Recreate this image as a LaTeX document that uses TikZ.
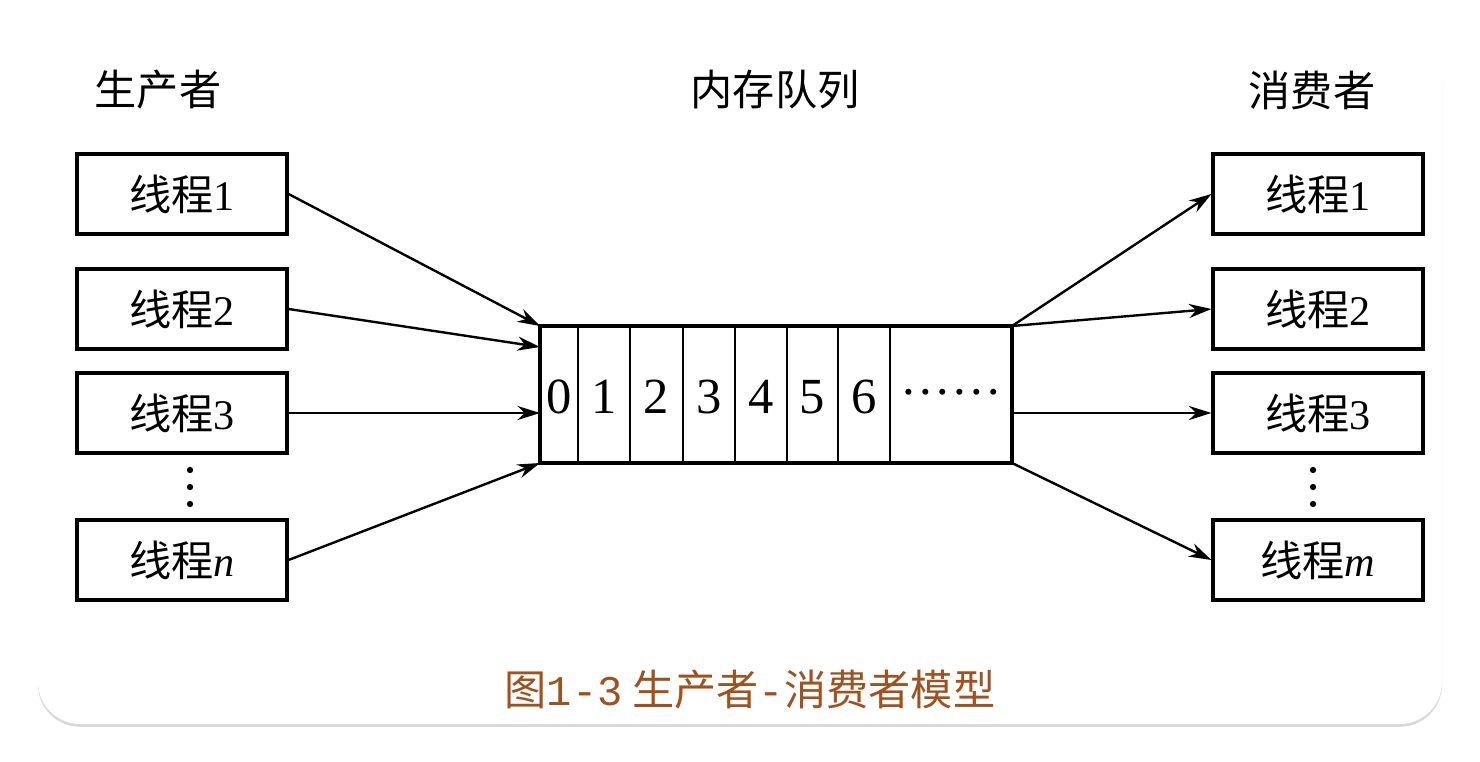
\documentclass[tikz,border=0pt]{standalone}
\usepackage{fontspec}
\setmainfont{Liberation Serif}
\newfontfamily\cjk{Noto Sans CJK SC}
\newfontfamily\capmono{Liberation Mono}
\usetikzlibrary{arrows.meta,shadows}
\definecolor{capbrown}{HTML}{A0521E}
\tikzset{
  x=0.025cm, y=-0.025cm,
  thread/.style = {draw, line width=2.2pt, minimum width=5.25cm, minimum height=2cm, inner sep=0pt, font=\fontsize{30}{32}\selectfont},
  title/.style = {font=\cjk\fontsize{30}{32}\selectfont},
  arrow/.style = {line width=1.7pt, -{Stealth[length=16pt,width=10pt]}},
  cell/.style = {font=\fontsize{36}{38}\selectfont},
  dot/.style = {circle, fill=black, inner sep=0pt, minimum size=4.5pt}
}
\newcommand{\xc}{{\cjk 线程}}
\begin{document}
\begin{tikzpicture}
\useasboundingbox (0,0) rectangle (1480,762);
\fill[white] (0,0) rectangle (1480,762);
\fill[white, rounded corners=30pt, drop shadow={shadow xshift=0pt, shadow yshift=-2pt, opacity=0.3}] (38,38) rectangle (1442,724);
% titles
\node (tp) [title] at (158,90) {生产者};
\node (tq) [title] at (775,90) {内存队列};
\node (tc) [title] at (1312,90) {消费者};
% producers
\node (p1) [thread] at (182,194) {\xc 1};
\node (p2) [thread] at (182,309) {\xc 2};
\node (p3) [thread] at (182,413) {\xc 3};
\node (pn) [thread] at (182,560) {\xc\textit{n}};
% consumers
\node (c1) [thread] at (1318,194) {\xc 1};
\node (c2) [thread] at (1318,309) {\xc 2};
\node (c3) [thread] at (1318,413) {\xc 3};
\node (cm) [thread] at (1318,560) {\xc\textit{m}};
\foreach \y in {470,487,504} {
  \node [dot] at (190,\y) {};
  \node [dot] at (1313,\y) {};
}
% queue
\draw[line width=2.4pt] (540,326) rectangle (1012,463);
\foreach \x in {578,630,683,735,787,838,890}
  \draw[line width=1.2pt] (\x,326) -- (\x,463);
\foreach \t/\x in {0/559,1/604,2/656,3/709,4/761,5/812,6/864}
  \node (q\t) [cell] at (\x,397) {\t};
\node (qd) [cell] at (951,392) {……};
\coordinate (qi1) at (540,326);
\coordinate (qi2) at (540,347);
\coordinate (qi3) at (540,413);
\coordinate (qin) at (540,463);
\coordinate (qo1) at (1012,326);
\coordinate (qo3) at (1012,413);
\coordinate (qon) at (1012,463);
\draw [arrow] (p1.east) -- (qi1);
\draw [arrow] (p2.east) -- (qi2);
\draw [arrow] (p3.east) -- (qi3);
\draw [arrow] (pn.east) -- (qin);
\draw [arrow] (qo1) -- (c1.west);
\draw [arrow] (qo1) -- (c2.west);
\draw [arrow] (qo3) -- (c3.west);
\draw [arrow] (qon) -- (cm.west);
% caption
\node (cap) [font=\cjk\fontsize{30}{32}\selectfont, text=capbrown] at (750,690) {图{\capmono 1-3} 生产者{\capmono -}消费者模型};
\end{tikzpicture}
\end{document}
